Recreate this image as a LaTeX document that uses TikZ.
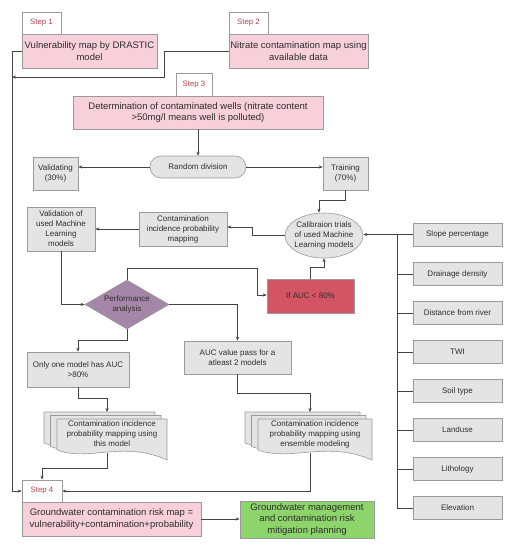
\documentclass[tikz,border=0pt]{standalone}
\usepackage{fontspec}
\setmainfont{Liberation Sans}
\usetikzlibrary{arrows.meta,shapes.geometric}
\definecolor{pinkf}{HTML}{F7D0DA}
\definecolor{grayf}{HTML}{E4E4E4}
\definecolor{bordc}{HTML}{9A9A9A}
\definecolor{txt}{HTML}{2E2E2E}
\definecolor{stepc}{HTML}{B04050}
\definecolor{redf}{HTML}{D35462}
\definecolor{purpf}{HTML}{A686A8}
\definecolor{greenf}{HTML}{8DD46A}
\definecolor{linec}{HTML}{444444}
\tikzset{
  base/.style={draw=bordc, line width=0.6pt, inner sep=1pt, align=center, text=txt},
  pinkbox/.style={base, fill=pinkf, font=\fontsize{9.5}{11.5}\selectfont},
  graybox/.style={base, fill=grayf, font=\fontsize{8}{10}\selectfont},
  stepbox/.style={base, fill=white, text=stepc, font=\fontsize{7.8}{9}\selectfont},
  sidebox/.style={graybox, minimum width=89pt, minimum height=23pt},
  conn/.style={draw=linec, line width=0.6pt},
  arr/.style={conn, -{Stealth[length=4pt,width=3.2pt]}},
  docst/.style={draw=bordc, line width=0.6pt, fill=grayf}
}
\newcommand\docpath[4]{%
  \filldraw[docst] (#1,#2) -- (#3,#2) -- (#3,{#4+10})
    .. controls ({#1+0.6*(#3-#1)},{#4-10}) and ({#1+0.3*(#3-#1)},{#4+12}) .. (#1,#4) -- cycle;}
\begin{document}
\begin{tikzpicture}[x=1pt,y=-1pt]
\useasboundingbox (0,0) rectangle (513,550);

% top boxes
\node[stepbox, minimum width=39pt, minimum height=22pt] (s1) at (41.5,23) {Step 1};
\node[pinkbox, minimum width=135pt, minimum height=34pt] (vul) at (89.5,51) {Vulnerability map by DRASTIC\\model};
\node[stepbox, minimum width=39pt, minimum height=22pt] (s2) at (248.5,23) {Step 2};
\node[pinkbox, minimum width=139pt, minimum height=34pt] (nit) at (298.5,51) {Nitrate contamination map using\\available data};
\node[stepbox, minimum width=36pt, minimum height=23pt] (s3) at (194,84.5) {Step 3};
\node[pinkbox, minimum width=250pt, minimum height=33pt] (det) at (198,112.5) {Determination of contaminated wells (nitrate content\\>50mg/l means well is polluted)};

% middle
\node[graybox, rounded corners=11pt, minimum width=96pt, minimum height=22pt] (rand) at (198,167) {Random division};
\node[graybox, minimum width=45pt, minimum height=33pt] (val) at (55.5,173.5) {Validating\\(30\%)};
\node[graybox, minimum width=45pt, minimum height=33pt] (train) at (345.5,173.5) {Training\\(70\%)};
\node[graybox, ellipse, inner sep=-3pt, minimum width=78pt, minimum height=45pt] (cal) at (324,235.5) {Calibraion trials\\of used Machine\\Learning models};
\node[graybox, minimum width=68pt, minimum height=44pt] (vml) at (61,229) {Validation of\\used Machine\\Learning\\models};
\node[graybox, minimum width=88pt, minimum height=34pt] (cip) at (183,229) {Contamination\\incidence probability\\mapping};
\node[base, diamond, fill=purpf, shape aspect=1.7, inner sep=0pt, minimum width=84pt, minimum height=49pt, font=\fontsize{8}{10}\selectfont] (dia) at (127,304.5) {Performance\\analysis};
\node[base, fill=redf, minimum width=87pt, minimum height=34pt, font=\fontsize{8}{10}\selectfont] (auc) at (310.5,296) {If AUC < 80\%};
\node[graybox, minimum width=102pt, minimum height=35pt] (one) at (78,369.5) {Only one model has AUC\\>80\%};
\node[graybox, minimum width=107pt, minimum height=33pt] (two) at (237.5,357.5) {AUC value pass for a\\atleast 2 models};

% right column
\node[sidebox] (slope) at (457.5,234.5) {Slope percentage};
\node[sidebox] (drain) at (457.5,274) {Drainage density};
\node[sidebox] (dist) at (457.5,313) {Distance from river};
\node[sidebox] (twi) at (457.5,352) {TWI};
\node[sidebox] (soil) at (457.5,391) {Soil type};
\node[sidebox] (land) at (457.5,430) {Landuse};
\node[sidebox] (lith) at (457.5,469) {Lithology};
\node[sidebox] (elev) at (457.5,508) {Elevation};

% documents
\docpath{44}{412}{155}{443}
\docpath{50.5}{415.5}{161}{446.5}
\docpath{57}{419}{167}{450}
\node[align=center, text=txt, font=\fontsize{8}{10}\selectfont] (doc1) at (112,434) {Contamination incidence\\probability mapping using\\this model};
\docpath{245}{412}{360}{443}
\docpath{251.5}{415.5}{366}{446.5}
\docpath{258}{419}{372}{450}
\node[align=center, text=txt, font=\fontsize{8}{10}\selectfont] (doc2) at (315,434) {Contamination incidence\\probability mapping using\\ensemble modeling};

% bottom
\node[stepbox, minimum width=40pt, minimum height=22pt] (s4) at (42,491) {Step 4};
\node[pinkbox, minimum width=179pt, minimum height=34pt] (risk) at (111.5,519) {Groundwater contamination risk map =\\vulnerability+contamination+probability};
\node[base, fill=greenf, minimum width=134pt, minimum height=37pt, font=\fontsize{9.5}{11.5}\selectfont] (green) at (307,519.5) {Groundwater management\\and contamination risk\\mitigation planning};

% coordinates
\coordinate (lx) at (12,51);
\coordinate (nx) at (164,77);
\coordinate (ax) at (257,268);
\coordinate (bus) at (397,234.5);
\coordinate (d1top) at (107,412);
\coordinate (d2top) at (310,412);
\coordinate (d1bot) at (107,453);
\coordinate (d2bot) at (310,453);

% connectors
\draw[arr] (vul.west) -- (lx) |- (s4.west);
\draw[arr] (nit.west) -| (nx) -- (nx -| lx);
\draw[arr] (det.south) -- (rand.north);
\draw[arr] (rand.west) -- (rand.west -| val.east);
\draw[arr] (rand.east) -- (rand.east -| train.west);
\draw[arr] (train.south) -- ++(0,10) -| ([xshift=-5pt]cal.north);
\draw[conn] (slope.west) -- (bus);
\draw[arr] (bus) -- (bus -| cal.east);
\draw[conn] (bus) -- (bus |- elev.west);
\foreach \n in {drain,dist,twi,soil,land,lith,elev}
  \draw[conn] (\n.west) -- (\n.west -| bus);
\draw[arr] (cal.west) -- ++(-32,0) |- ([yshift=2pt]cip.east);
\draw[arr] (cip.west) -- (cip.west -| vml.east);
\draw[arr] (vml.south) |- (dia.west);
\draw[arr] (dia.north) |- (ax) |- ([yshift=1pt]auc.west);
\draw[arr] (auc.north) -- ++(0,-11) -| (cal.south);
\draw[arr] (dia.east) -| (two.north);
\draw[arr] (dia.south) -- ++(0,11) -| (one.north);
\draw[arr] (one.south) -- ++(0,11) -| (d1top);
\draw[arr] (two.south) -- ++(0,19) -| (d2top);
\draw[arr] (d1bot) -- ++(0,15) -| (s4.north);
\draw[arr] (d2bot) |- (s4.east);
\draw[arr] (risk.east) -- (risk.east -| green.west);
\end{tikzpicture}
\end{document}
